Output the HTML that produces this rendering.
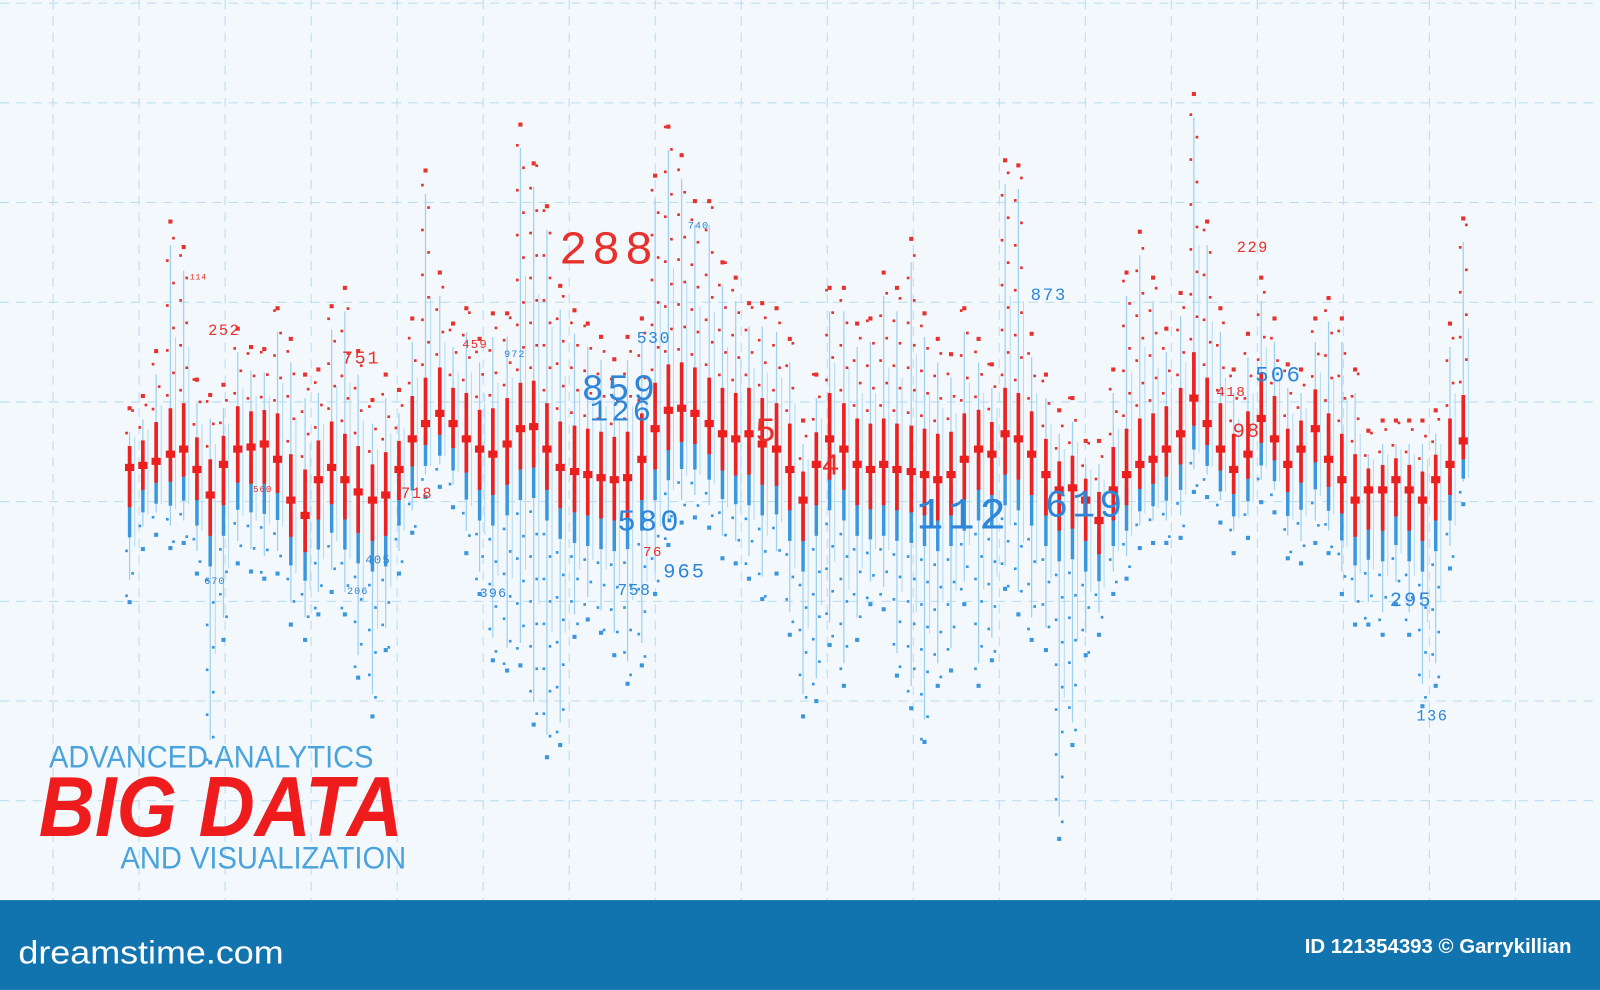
<!DOCTYPE html>
<html><head><meta charset="utf-8"><style>
html,body{margin:0;padding:0;background:#f2f8fc;}
svg{display:block;}
</style></head><body>
<svg id="chart" width="1600" height="990" viewBox="0 0 1568 970" xmlns="http://www.w3.org/2000/svg">
<rect x="0" y="0" width="1568" height="970" fill="#f2f8fc"/>
<g id="grid"></g>
<g id="cols"></g>
<g id="labels"></g>
<g>
<text x="48" y="752" font-family="Liberation Sans, sans-serif" font-size="31" fill="#4aa3dc" textLength="318" lengthAdjust="spacingAndGlyphs">ADVANCED ANALYTICS</text>
<text x="38" y="819" font-family="Liberation Sans, sans-serif" font-size="84" font-weight="bold" font-style="italic" fill="#ee1c1c" textLength="357" lengthAdjust="spacingAndGlyphs">BIG DATA</text>
<text x="118" y="851" font-family="Liberation Sans, sans-serif" font-size="31" fill="#4aa3dc" textLength="280" lengthAdjust="spacingAndGlyphs">AND VISUALIZATION</text>
</g>
<rect x="0" y="882" width="1568" height="88" fill="#1274ae"/>
<text x="18" y="944" font-family="Liberation Sans, sans-serif" font-size="32" fill="#ffffff" textLength="260" lengthAdjust="spacingAndGlyphs">dreamstime.com</text>
<text x="1540" y="934" text-anchor="end" font-family="Liberation Sans, sans-serif" font-size="20" font-weight="bold" fill="#ffffff">ID 121354393 © Garrykillian</text>
</svg>
<script>
const xs = [127,140,153,167,180,193,206,219,233,246,259,272,285,299,312,325,338,351,365,378,391,404,417,431,444,457,470,483,497,510,523,536,549,563,576,589,602,615,629,642,655,668,681,695,708,721,734,747,761,774,787,800,813,827,840,853,866,879,893,906,919,932,945,959,972,985,998,1011,1025,1038,1051,1064,1077,1091,1104,1117,1130,1143,1157,1170,1183,1196,1209,1223,1236,1249,1262,1275,1289,1302,1315,1328,1341,1355,1368,1381,1394,1407,1421,1434];
const centerVals = [2,4,8,15,20,0,-25,5,20,22,25,10,-30,-45,-10,2,-10,-22,-30,-25,0,30,45,55,45,30,20,15,25,40,42,20,2,-2,-5,-8,-10,-8,10,40,58,60,55,45,35,30,35,25,20,0,-30,5,30,20,5,0,5,0,-2,-5,-10,-5,10,20,15,35,30,15,-5,-20,-18,-30,-50,-20,-5,5,10,20,35,70,45,20,0,15,50,30,5,20,40,10,-10,-30,-20,-20,-10,-20,-30,-10,5,28];
const topVals = [60,70,110,230,200,90,100,80,120,100,95,150,160,140,110,160,190,140,100,120,80,120,250,140,100,130,110,140,130,300,260,240,180,160,150,140,120,140,140,250,280,250,210,220,170,160,130,140,140,130,80,90,150,160,140,150,190,180,230,160,140,120,150,110,90,270,270,120,100,80,90,60,80,120,200,230,180,120,140,300,200,140,100,120,140,120,100,80,110,160,160,130,60,70,60,70,80,70,140,220];
const bottomVals = [130,80,70,90,90,100,260,170,110,120,130,110,120,120,130,120,130,180,210,150,100,90,70,70,80,110,140,200,220,230,290,300,270,160,140,150,170,200,200,160,130,110,100,100,120,120,140,150,120,160,210,230,200,230,170,130,140,200,230,260,200,190,140,230,200,150,170,180,170,340,250,150,110,100,100,80,80,90,100,90,70,70,80,80,80,70,90,110,110,90,110,120,130,140,120,140,200,200,100,60];
const labelTexts = ["288","859","126","580","112","619","873","506","229","252","751","459","965","758","295","136","718","396","670","405","206","418","98","530","972","740","114","560","76","5","4"];
const BASE = 460;
function yOf(v){ return BASE - v; }
const NS = "http://www.w3.org/2000/svg";
function mk(tag, attrs, parent){ const e=document.createElementNS(NS,tag); for(const k in attrs) e.setAttribute(k,attrs[k]); parent.appendChild(e); return e; }

const grid = document.getElementById('grid');
for(let x=52; x<1568; x+=84.3){
  const l = mk('line',{x1:x,y1:0,x2:x,y2:882,stroke:'#b8dcf2','stroke-width':1,'stroke-dasharray':'9 7'},grid);
  
  
}
for(let y=3; y<882; y+=97.7){
  const l = mk('line',{x1:0,y1:y,x2:1568,y2:y,stroke:'#b8dcf2','stroke-width':1,'stroke-dasharray':'9 7'},grid);
  
  
}

const cols = document.getElementById('cols');
for(let i=0;i<xs.length;i++){
  const x = xs[i], c = yOf(centerVals[i]);
  const t = c - topVals[i], b = c + bottomVals[i];
  const g = mk('g',{},cols);
  
  
  mk('line',{x1:x,y1:t+25,x2:x,y2:b-20,stroke:'#9fd0f0','stroke-width':1.2},g);
  mk('line',{x1:x+5,y1:c-topVals[i]*0.5,x2:x+5,y2:c+bottomVals[i]*0.6,stroke:'#b3dbf4','stroke-width':1},g);
  mk('rect',{x:x-1.7,y:c+10,width:3.4,height:Math.min(60,bottomVals[i]*0.45),fill:'#3a97dd'},g);
  const rh = Math.min(45, topVals[i]*0.35);
  mk('rect',{x:x-1.8,y:c-rh,width:3.6,height:rh+Math.min(40,bottomVals[i]*0.3),fill:'#ec2222'},g);
  mk('rect',{x:x-4.5,y:c-3.5,width:9,height:7,fill:'#ec1f1f'},g);
  let k=0;
  for(let y=c-rh-14; y>t; y-=22){ mk('rect',{x:x-1.3+((k++%2)?3:-3),y:y,width:2.6,height:2.6,fill:'#e8302c'},g); }
  mk('rect',{x:x-2,y:t,width:4,height:4,fill:'#e8302c'},g);
  k=0;
  for(let y=c+Math.min(60,bottomVals[i]*0.45)+22; y<b; y+=22){ mk('rect',{x:x-1.3+((k++%2)?3:-3),y:y,width:2.6,height:2.6,fill:'#3a97dd'},g); }
  mk('rect',{x:x-2,y:b,width:4,height:4,fill:'#3a97dd'},g);
}

const labelPos = [[548,258,46,'#e8302c'],[570,392,36,'#2f86d8'],[578,412,30,'#2f86d8'],[605,520,30,'#2f86d8'],[898,518,44,'#2f86d8'],[1024,506,38,'#2f86d8'],[1010,294,17,'#2f86d8'],[1230,374,22,'#2f86d8'],[1212,247,15,'#e8302c'],[204,328,15,'#e8302c'],[335,356,18,'#e8302c'],[453,341,12,'#e8302c'],[650,566,20,'#2f86d8'],[605,583,16,'#2f86d8'],[1362,594,20,'#2f86d8'],[1388,706,15,'#2f86d8'],[393,488,15,'#e8302c'],[470,585,13,'#2f86d8'],[200,572,10,'#2f86d8'],[358,552,12,'#2f86d8'],[340,582,10,'#2f86d8'],[1192,388,14,'#e8302c'],[1208,428,20,'#e8302c'],[624,336,16,'#2f86d8'],[494,350,10,'#2f86d8'],[674,224,10,'#2f86d8'],[186,274,8,'#e8302c'],[248,482,9,'#e8302c'],[630,545,14,'#e8302c'],[740,432,34,'#e8302c'],[805,465,30,'#e8302c']];
const labels = document.getElementById('labels');
for(let i=0;i<labelTexts.length;i++){
  const p = labelPos[i];
  const t = mk('text',{x:p[0],y:p[1],'font-size':p[2],fill:p[3],'font-family':'Liberation Mono, monospace','letter-spacing':p[2]*0.1},labels);
  t.textContent = labelTexts[i];
  
  
}
</script>
</body></html>
